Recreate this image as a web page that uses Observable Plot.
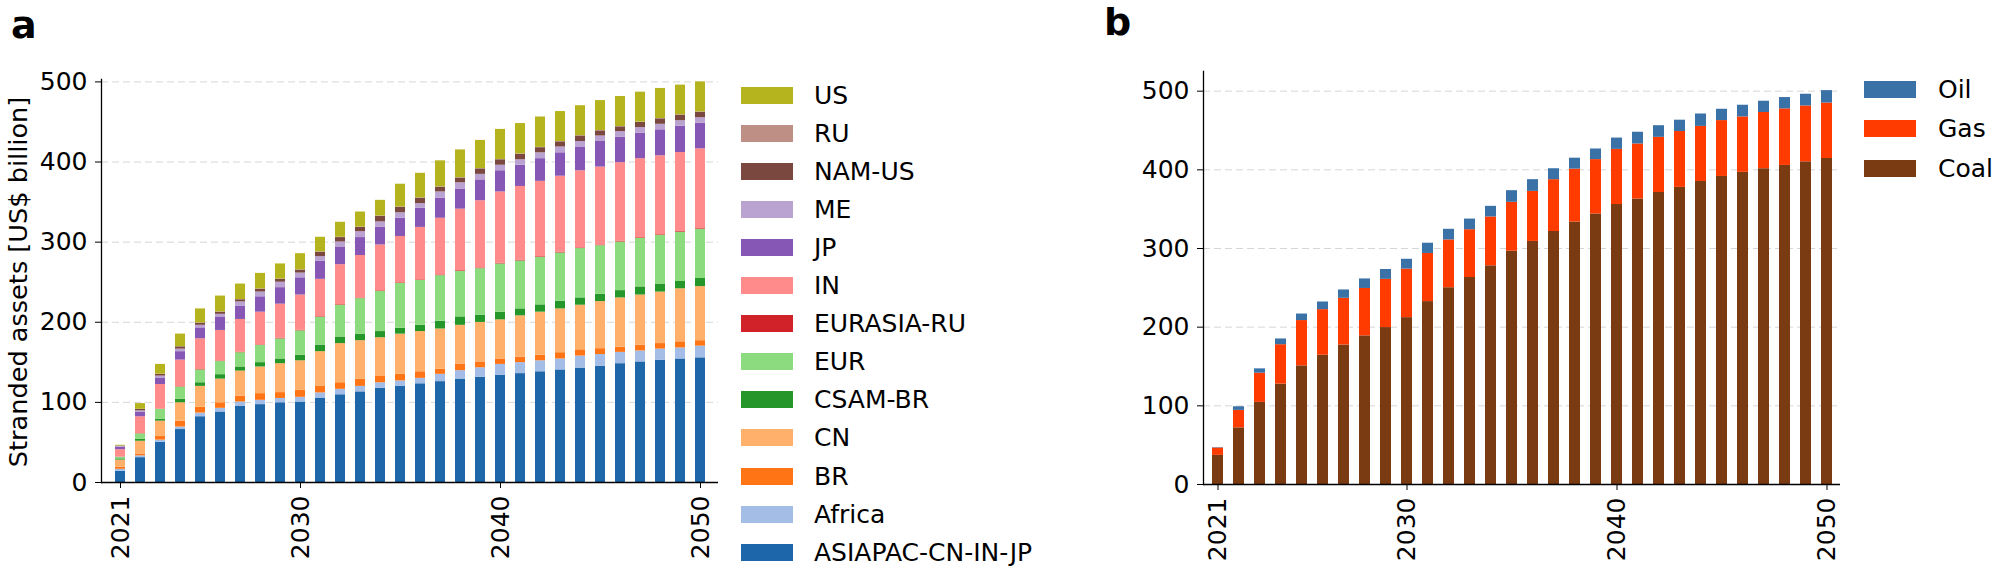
<!DOCTYPE html>
<html><head><meta charset="utf-8">
<script src="https://cdn.jsdelivr.net/npm/d3@7"></script>
<script src="https://cdn.jsdelivr.net/npm/@observablehq/plot@0.6"></script>
<style>
body{margin:0;background:#fff;font-family:"DejaVu Sans",sans-serif;}
#root{position:relative;width:2000px;height:573px;overflow:hidden;background:#fff;color:#000}
.panel{position:absolute;top:0}
.plab{position:absolute;font-weight:bold;font-size:38px;line-height:1}
.lrow{position:absolute;display:flex;align-items:center;height:30px;font-size:25px;white-space:nowrap}
.sw{width:52px;height:17px;flex:none}
.ylab{position:absolute;font-size:25.6px;white-space:nowrap;transform:translate(-50%,-50%) rotate(-90deg)}
</style></head>
<body><div id="root"></div>
<script>
// ---------- data ----------
const years = [2021,2022,2023,2024,2025,2026,2027,2028,2029,2030,2031,2032,2033,2034,2035,2036,2037,2038,2039,2040,2041,2042,2043,2044,2045,2046,2047,2048,2049,2050];

// panel a: regions, stacked bottom -> top
const regions = ["ASIAPAC-CN-IN-JP","Africa","BR","CN","CSAM-BR","EUR","EURASIA-RU","IN","JP","ME","NAM-US","RU","US"];
const colorsA = ["#1c66a9","#a3bde6","#ff7415","#ffb06a","#25962a","#8cdb7e","#d12229","#ff8b8b","#8657b4","#baa3d0","#7b483f","#bd8f85","#b5b41f"];

const ASIAPAC = [14,31,50.2,66.1,82.1,88,94.9,97.2,99.5,100.4,104.9,109.5,113.1,117.7,120,123.2,125.9,129.1,131.4,133.7,135.9,138.2,140.5,142.8,145.1,148.3,150.5,152.4,154.2,155.6];
const Africa  = [2.5,2.3,2.7,3.2,4.6,4.6,5.5,5.4,5.4,5.9,6.9,6.8,6.9,6.8,6.8,6.8,9.1,10.5,11.8,13.7,13.7,13.7,13.7,15,14.6,14.1,13.7,14.1,13.7,14.6];
const BR      = [2.5,2.3,4.6,7.3,7.3,6.9,7.3,8.3,7.3,9.1,8.2,8.2,9.1,7.8,8.2,8.2,6.4,7.8,7.3,6.8,6.9,6.9,7.8,7.8,7.3,6.4,7.3,6.9,7.7,6.8];
const CN      = [9,15.9,19.1,22.9,26,29.6,31.4,33.3,36.1,36.5,43.3,48.9,47.9,48.4,50.2,50.2,50.2,48.8,49.3,48.8,51.5,53.8,54.7,55.7,58.8,61.6,62.5,64.3,66.2,67.5];
const CSAM    = [1.5,2.3,2.3,4.5,4.5,5.5,5.1,5.4,5.9,6.9,8.2,8.2,8.2,7.7,7.3,7.8,9.6,10.5,9.1,9.6,8.7,9.1,9.6,9.1,9.1,9.1,10.1,10,9.1,10.1];
const EUR     = [2,6.9,12.3,15,16,16.4,17.8,21.5,25.1,30.5,34.7,39.7,44.3,50.2,56.1,56.1,57,57,58,60.2,59.8,59.3,60.2,61.6,60.7,60.7,60.6,60.7,61.6,61.5];
const EURASIA = [0.2,0.3,0.4,0.5,0.5,0.6,0.6,0.6,0.6,0.7,0.7,0.7,0.7,0.7,0.7,0.7,0.8,0.8,0.8,0.8,0.8,0.8,0.8,0.8,0.8,0.8,0.8,0.8,0.8,0.8];
const IN      = [9.3,21,30.7,33.3,38.3,38.2,40.9,40.9,42.7,44,46.7,49.9,53.1,57.2,57.7,65.4,70.8,76.7,84,89.1,92.2,94.1,95,96.3,97.3,98.2,98.7,98.6,98.6,99.6];
const JP      = [3,6,8.2,10.5,13.7,16.9,16.8,19.2,20.6,21.5,22.4,21.4,22.4,21.9,22.8,23.8,25.1,25.1,26,26.4,26.5,28.3,29.2,29.7,31.9,31.9,31.9,32.4,32.9,31.9];
const ME      = [1,1.4,2.3,3.2,3.2,3.2,5.1,5.9,6.8,5.9,5.9,6.9,7.3,6.9,6.9,5.9,7.8,7.8,6.9,6.9,6.8,7.3,7.3,6.8,6.9,6.9,6.9,6.9,6.8,6.9];
const NAM     = [0.5,1.8,2.2,2.8,2.7,2.7,2.7,3.6,3.6,3.7,5.5,5.5,5.4,6.8,6.8,6.8,5.9,5.9,6.8,6.8,6.9,6.4,6.4,6.9,6.4,5.9,6.4,6.8,6.9,6.8];
const RU      = [0.1,0.2,0.2,0.3,0.3,0.3,0.3,0.3,0.3,0.3,0.4,0.4,0.4,0.4,0.4,0.4,0.4,0.4,0.4,0.4,0.4,0.4,0.4,0.4,0.4,0.4,0.4,0.4,0.4,0.4];
const US      = [0.9,7.1,12.2,15.6,17.5,19.8,19.3,19.4,18.9,20.2,18.3,18.7,18.8,19.7,28.4,30.6,32.5,34.7,35.2,37.5,37.9,37.9,37.4,37.4,37.4,37.5,37.4,37.5,37.1,37.5];
const seriesA = [ASIAPAC,Africa,BR,CN,CSAM,EUR,EURASIA,IN,JP,ME,NAM,RU,US];

// panel b: fuels, stacked bottom -> top
const fuels = ["Coal","Gas","Oil"];
const colorsB = ["#7a3a12","#ff3b00","#3a72a8"];
const Coal = [37,72,104.4,127.6,150.8,164.3,177.3,188.9,199.5,212.1,232.5,250.1,263.1,278,296.5,309,321.6,333.6,343.9,355.9,362.9,371.2,377.7,385.2,391.6,396.8,401.4,405.6,410.2,414.4];
const Gas  = [9.4,22.2,37.1,50.1,57.6,58,59.4,60.3,61.3,61.7,61.2,60.8,60.8,62.1,62.2,63.6,65.9,67.3,69.1,70.1,70,70.1,71,70,71,70.5,71.5,71.9,71,70.5];
const Oil  = [0.5,4.6,5.5,7.3,8.3,9.7,10.6,12.1,12.5,12.5,13,13.5,13.5,13.5,14.8,14.9,13.9,13.9,13.5,14.4,14.9,14.8,14.4,15.8,14.4,14.8,14.3,14.4,14.9,15.8];
const seriesB = [Coal,Gas,Oil];

const yTicks = [0,100,200,300,400,500];
const xTicks = [2021,2030,2040,2050];
const yLabel = "Stranded assets [US$ billion]";

// ---------- build ----------
const longA = [];
regions.forEach((r,i)=>years.forEach((yr,j)=>longA.push({year:yr,key:r,value:seriesA[i][j]})));
const longB = [];
fuels.forEach((f,i)=>years.forEach((yr,j)=>longB.push({year:yr,key:f,value:seriesB[i][j]})));

function makePlot(data, keys, colors, opts){
  return Plot.plot({
    width:opts.width, height:573,
    marginLeft:opts.ml, marginRight:opts.mr, marginTop:opts.mt, marginBottom:opts.mb,
    style:{fontFamily:"DejaVu Sans", fontSize:"25px", color:"#000", background:"transparent", overflow:"visible"},
    x:{type:"band", domain:years, paddingInner:0.5, paddingOuter:0.25, align:0.5, axis:null},
    y:{domain:[0,opts.ymax], axis:null},
    color:{domain:keys, range:colors},
    marks:[
      Plot.gridY(yTicks.slice(1), {stroke:"#d6d6d6", strokeOpacity:1, strokeDasharray:"7,4", strokeWidth:1}),
      Plot.barY(data, {x:"year", y:"value", fill:"key", order:keys}),
      Plot.ruleY([0], {stroke:"#000", strokeWidth:1.3}),
      Plot.frame({anchor:"left", stroke:"#000", strokeWidth:1.3}),
      Plot.axisY(yTicks, {tickSize:6, tickPadding:8, label:null, tickFormat:d=>String(d), fontSize:25}),
      Plot.axisX(xTicks, {tickRotate:-90, tickSize:6, tickPadding:7, label:null, tickFormat:d=>String(d), fontSize:25})
    ]
  });
}

const root = document.getElementById("root");
const pa = makePlot(longA, regions, colorsA, {width:730, ml:101, mr:12, mt:79, mb:91, ymax:503});
pa.classList.add("panel"); pa.style.left="0px";
root.appendChild(pa);
const pb = makePlot(longB, fuels, colorsB, {width:750, ml:103, mr:10, mt:71, mb:89, ymax:525});
pb.classList.add("panel"); pb.style.left="1100px";
root.appendChild(pb);

function addDiv(cls, text, css){
  const d=document.createElement("div"); d.className=cls; if(text!=null) d.textContent=text;
  Object.assign(d.style, css); root.appendChild(d); return d;
}
addDiv("plab","a",{left:"11px",top:"6px"});
addDiv("plab","b",{left:"1104px",top:"3px"});
addDiv("ylab",yLabel,{left:"17.5px",top:"282px"});

function legend(keysTopDown, colorOf, x, y0, step, gap){
  keysTopDown.forEach((k,i)=>{
    const row=addDiv("lrow",null,{left:x+"px",top:(y0+i*step-15)+"px"});
    const sw=document.createElement("div"); sw.className="sw"; sw.style.background=colorOf(k); sw.style.marginRight=gap+"px";
    const t=document.createElement("span"); t.textContent=k;
    row.appendChild(sw); row.appendChild(t);
  });
}
const legA = regions.slice().reverse();
legend(legA, k=>colorsA[regions.indexOf(k)], 741, 95, 38.1, 21);
const legB = fuels.slice().reverse();
legend(legB, k=>colorsB[fuels.indexOf(k)], 1864, 89, 39.5, 22);
</script></body></html>
